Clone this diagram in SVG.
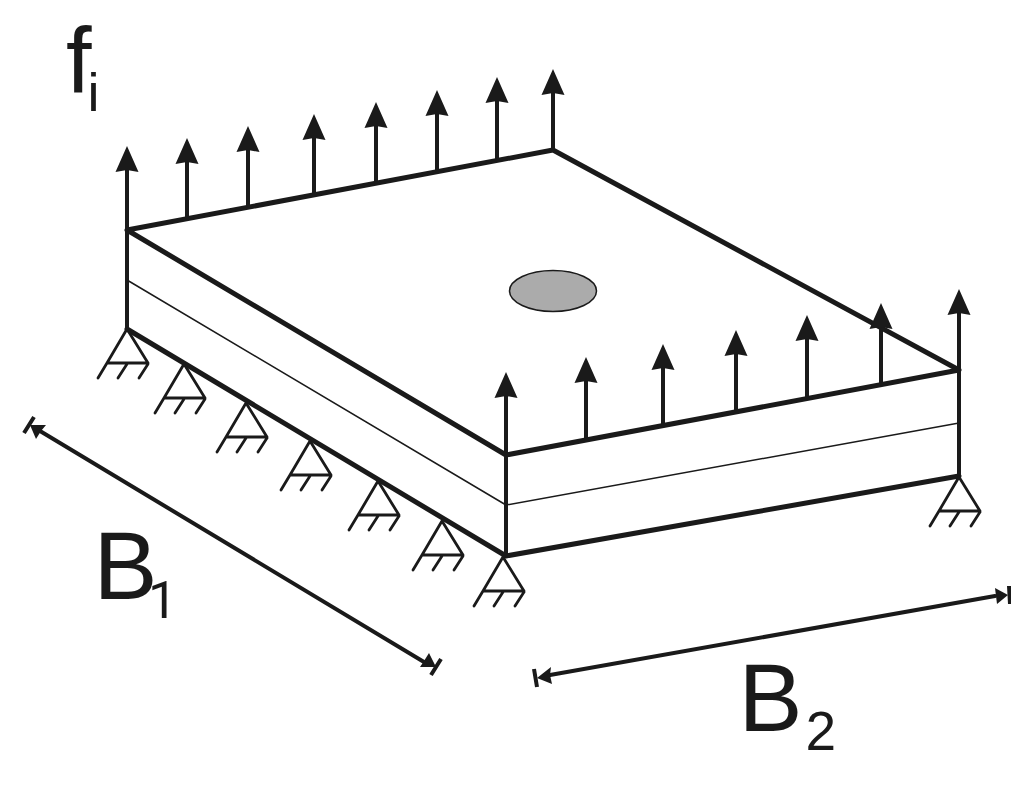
<svg xmlns="http://www.w3.org/2000/svg" width="1011" height="786" viewBox="0 0 1011 786">
<style>
.k{stroke:#1a1a1a;fill:none;stroke-linecap:round;stroke-linejoin:round}
.e{stroke-width:5}
.v{stroke-width:4}
.t{stroke-width:1.500}
.s{stroke-width:2.800}
.a{stroke-width:4;stroke-linecap:butt}
.h{fill:#1a1a1a}
text{font-family:"Liberation Sans",Arial,sans-serif;fill:#1a1a1a}
</style>
<defs>
<g id="sup"><path class="k s" d="M0 0L-20 34L21 34L0 0M-20 34L-29 49M0 35L-9 49M21 35L12 49"/></g>
<g id="up"><path class="h" d="M0 0L11.500 26L0 24L-11.500 26Z"/></g>
</defs>
<rect width="1011" height="786" fill="#fff"/>
<g id="plate">
<path class="k e" d="M127 230L553 150L959 370L506 455Z"/>
<path class="k e" d="M127 329L506 556L959 476"/>
<path class="k v" d="M127 230V329M506 455V556M959 370V476"/>
<path class="k t" d="M127 280L506 505L959 423"/>
</g>
<g id="hole"><ellipse cx="553" cy="291" rx="43.500" ry="20.500" fill="#ababab" stroke="#1a1a1a" stroke-width="1.500"/></g>
<g id="connectors">
<g id="arrows-back">
<path class="k a" d="M127 229V168M187 218V160M248 207V148M314 195V136M376 183V124M437 171V112M497 160V99M553 150V91"/>
<use href="#up" x="127" y="146"/><use href="#up" x="187" y="138"/><use href="#up" x="248" y="126"/><use href="#up" x="314" y="114"/><use href="#up" x="376" y="102"/><use href="#up" x="437" y="90"/><use href="#up" x="497" y="77"/><use href="#up" x="553" y="69"/>
</g>
<g id="arrows-front">
<path class="k a" d="M506 455V394M586 439V379M663 425V366M736 411V352M807 397V337M881 383V325M959 370V311"/>
<use href="#up" x="506" y="372"/><use href="#up" x="586" y="357"/><use href="#up" x="663" y="344"/><use href="#up" x="736" y="330"/><use href="#up" x="807" y="315"/><use href="#up" x="881" y="303"/><use href="#up" x="959" y="289"/>
</g>
<g id="dim-b1">
<path class="k v" d="M40 431L424 662"/>
<path class="k v" style="stroke-linecap:butt" d="M34 417L24 433M441 659L431 675"/>
<path class="h" d="M30 425L46 425L41 431L36 439Z"/>
<path class="h" d="M436 667L420 667L424 661L429 653Z"/>
</g>
<g id="dim-b2">
<path class="k v" d="M550 675L995 596"/>
<path class="k v" style="stroke-linecap:butt" d="M534 669L537 687M1009 586L1010 604"/>
<path class="h" d="M537 678L551 667L550 675L552 684Z"/>
<path class="h" d="M1008 595L995 588L996 596L997 604Z"/>
</g>
</g>
<g id="supports">
<use href="#sup" x="127" y="329"/><use href="#sup" x="184" y="364"/><use href="#sup" x="246" y="403"/><use href="#sup" x="310" y="441"/><use href="#sup" x="378" y="481"/><use href="#sup" x="442" y="521"/><use href="#sup" x="503" y="557"/><use href="#sup" x="959" y="477"/>
</g>
<g id="labels">
<text x="66" y="92" font-size="92">f<tspan dx="-4" dy="19" font-size="54">i</tspan></text>
<text x="93.500" y="599" font-size="96">B<tspan dx="-9.500" dy="19" font-size="52" font-family="Roboto, sans-serif">1</tspan></text>
<text x="738.500" y="731" font-size="96">B<tspan dx="3" dy="19" font-size="55">2</tspan></text>
</g>
</svg>
